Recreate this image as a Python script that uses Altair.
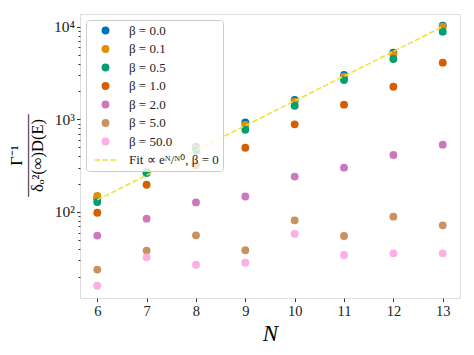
import altair as alt
import pandas as pd

N = [6, 7, 8, 9, 10, 11, 12, 13]
beta_labels = ["β = 0.0", "β = 0.1", "β = 0.5", "β = 1.0", "β = 2.0", "β = 5.0", "β = 50.0"]
b00 = [140, 265, 505, 928, 1620, 3010, 5240, 10250]
b01 = [149, 272, 485, 869, 1550, 2890, 5020, 10000]
b05 = [128, 266, 459, 773, 1403, 2660, 4480, 8830]
b10 = [98, 197, 321, 494, 883, 1440, 2250, 4090]
b20 = [55.6, 84.7, 127, 147, 241, 301, 412, 533]
b50 = [23.9, 38.3, 56, 38.6, 81.3, 55.1, 89, 71.8]
b500 = [16, 32.4, 27, 28.4, 58, 34.4, 35.8, 35.8]
series = [b00, b01, b05, b10, b20, b50, b500]

fit_label = "Fit ∝ eᴺ/ᴺ⁰, β = 0"
fit_N = [6, 13]
fit_val = [135, 10000]

colors = ["#0173B2", "#DE8F05", "#029E73", "#D55E00", "#CC78BC", "#CA9161", "#FBAFE4", "#ECE133"]
dash_path = ("M-2.75,-0.19H-1.36V0.19H-2.75Z M-0.76,-0.19H0.63V0.19H-0.76Z "
             "M1.23,-0.19H2.62V0.19H1.23Z")
shapes = ["circle"] * 7 + [dash_path]

rows = []
for lab, vals in zip(beta_labels, series):
    for n, v in zip(N, vals):
        rows.append({"N": n, "val": v, "series": lab})
df = pd.DataFrame(rows)
fit_df = pd.DataFrame({"N": fit_N, "val": fit_val, "series": [fit_label] * 2})

domain = beta_labels + [fit_label]
serif = "Liberation Serif"

minor = [20, 30, 40, 50, 60, 70, 80, 90, 100, 200, 300, 400, 500, 600, 700, 800, 900,
         1000, 2000, 3000, 4000, 5000, 6000, 7000, 8000, 9000, 10000]

x_enc = alt.X("N:Q", scale=alt.Scale(domain=[5.65, 13.35], nice=False, zero=False),
              axis=alt.Axis(values=N, title="N", titleFont=serif, titleFontSize=23,
                            titleFontStyle="italic", titleFontWeight="normal",
                            titlePadding=4, labelFont=serif, labelFontSize=14.5,
                            labelColor="#222", tickSize=3.5, tickColor="#333",
                            domain=False, grid=False, labelPadding=3))

major_test = "datum.value == 100 || datum.value == 1000 || datum.value == 10000"
y_enc = alt.Y("val:Q", scale=alt.Scale(type="log", domain=[11.8, 13700], nice=False),
              axis=alt.Axis(values=minor,
                            labelExpr="datum.value == 100 ? '10²' : datum.value == 1000 ? '10³' : datum.value == 10000 ? '10⁴' : ''",
                            title=["Γ⁻¹", "—————", "δₒ²(∞)D(E)"],
                            titleFont=serif, titleFontSize=16.5, titleFontWeight="normal",
                            titleAngle=-90, titleX=-59, titleY=141, titleAlign="center",
                            titleBaseline="alphabetic", titleLineHeight=10.5,
                            labelFont=serif, labelFontSize=15.5, labelColor="#222",
                            tickSize={"condition": {"test": major_test, "value": 3.5}, "value": 2},
                            tickColor="#333", domain=False, grid=False, labelPadding=2,
                            labelOverlap=False))

color_scale = alt.Scale(domain=domain, range=colors)

points = alt.Chart(df).mark_point(filled=True, size=62, opacity=1).encode(
    x=x_enc,
    y=y_enc,
    color=alt.Color("series:N", scale=color_scale, sort=domain,
                    legend=alt.Legend(title=None, orient="top-left", offset=6,
                                      fillColor="rgba(255,255,255,0.8)", strokeColor="#cccccc",
                                      cornerRadius=3, padding=4, labelFont=serif,
                                      labelFontSize=13, labelColor="#222",
                                      symbolSize=62, rowPadding=4.5, labelOffset=17,
                                      symbolOffset=9, symbolStrokeWidth=0)),
    shape=alt.Shape("series:N", scale=alt.Scale(domain=domain, range=shapes), sort=domain,
                    legend=alt.Legend(title=None, orient="top-left", offset=6)),
)

fit = alt.Chart(fit_df).mark_line(strokeDash=[5.5, 2.4], strokeWidth=1.5).encode(
    x="N:Q",
    y="val:Q",
    color=alt.Color("series:N", scale=color_scale, legend=None),
)

chart = alt.layer(points, fit).properties(
    width=380, height=284,
    autosize=alt.AutoSizeParams(type="none"),
    padding={"left": 72, "top": 6, "right": 6, "bottom": 49},
).configure_view(stroke="#333", strokeWidth=1).configure(background="white")

chart.save("out.html", embed_options={"renderer": "svg", "actions": False})
